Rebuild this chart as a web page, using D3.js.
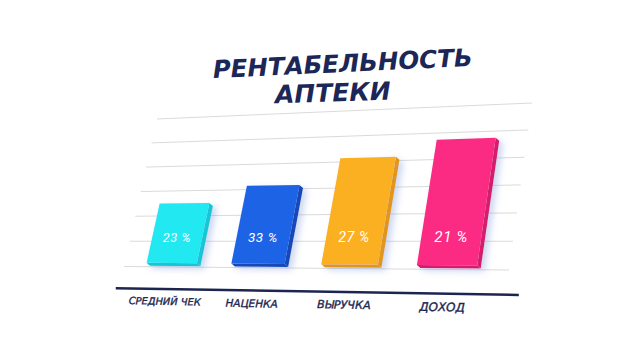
<!DOCTYPE html>
<html><head><meta charset="utf-8">
<script src="https://cdn.jsdelivr.net/npm/d3@7"></script>
<style>html,body{margin:0;padding:0;background:#fff;} svg{display:block;}</style>
</head><body>
<svg id="c" width="640" height="360"></svg>
<script>
// ---- data ----
const titleLines = ["РЕНТАБЕЛЬНОСТЬ", "АПТЕКИ"];
const categories = ["СРЕДНИЙ ЧЕК", "НАЦЕНКА", "ВЫРУЧКА", "ДОХОД"];
const valueLabels = ["23 %", "33 %", "27 %", "21 %"];
const barHeights = [2.5, 3.15, 4.15, 4.75];   // drawn bar height, in gridline units
const gridTicks = [0, 1, 2, 3, 4, 5, 6];
const barColors = ["#22e8f2", "#1c63e6", "#fbb024", "#fb2a82"];
const sideColors = ["#17c6d6", "#1449b5", "#e0961a", "#d61d6c"];

// ---- perspective (homography) from chart plane to screen ----
function solve(A, b) {
  const n = b.length, M = A.map((r, i) => [...r, b[i]]);
  for (let c = 0; c < n; c++) {
    let p = c;
    for (let r = c + 1; r < n; r++) if (Math.abs(M[r][c]) > Math.abs(M[p][c])) p = r;
    [M[c], M[p]] = [M[p], M[c]];
    for (let r = 0; r < n; r++) {
      if (r === c) continue;
      const f = M[r][c] / M[c][c];
      for (let k = c; k <= n; k++) M[r][k] -= f * M[c][k];
    }
  }
  return M.map((r, i) => r[n] / r[i]);
}
const src = [[0, 0], [1, 0], [0, 6], [1, 6]];
const dst = [[124, 266.5], [509, 270], [157, 119], [532, 103]];
const A = [], B = [];
src.forEach(([u, v], i) => {
  const [x, y] = dst[i];
  A.push([u, v, 1, 0, 0, 0, -u * x, -v * x]); B.push(x);
  A.push([0, 0, 0, u, v, 1, -u * y, -v * y]); B.push(y);
});
const h = solve(A, B);
function P(u, v) {
  const w = h[6] * u + h[7] * v + 1;
  return [(h[0] * u + h[1] * v + h[2]) / w, (h[3] * u + h[4] * v + h[5]) / w];
}
function localScale(u, v) {
  const a = P(u, v), b = P(u + 0.01, v);
  return Math.hypot(b[0] - a[0], b[1] - a[1]) / (0.01 * 385);
}
function localAngle(u, v) {
  const a = P(u, v), b = P(u + 0.01, v);
  return Math.atan2(b[1] - a[1], b[0] - a[0]) * 180 / Math.PI;
}

// ---- scales in plane units ----
const x = d3.scaleBand().domain(categories).range([0.016, 0.973]).paddingInner(0.4).paddingOuter(0.2);
const y = d3.scaleLinear().domain([0, 6]).range([0, 6]);
const base = 0.15;

const svg = d3.select("#c");
const defs = svg.append("defs");
defs.append("filter").attr("id", "sh").attr("x", "-30%").attr("y", "-20%").attr("width", "170%").attr("height", "150%")
  .append("feDropShadow").attr("dx", 4).attr("dy", 3).attr("stdDeviation", 3)
  .attr("flood-color", "#6f8fd8").attr("flood-opacity", 0.35);

// gridlines
const line = d3.line();
svg.append("g").selectAll("path").data(gridTicks).join("path")
  .attr("d", t => line([P(0, y(t)), P(1, y(t))]))
  .attr("stroke", "#dadada").attr("stroke-width", 1).attr("fill", "none");

// axis line
svg.append("path").attr("d", line([P(-0.01, -0.85), P(1.03, -0.85)]))
  .attr("stroke", "#1c2550").attr("stroke-width", 2.5).attr("fill", "none");

// bars
const d = [3.5, 3];
const bars = svg.append("g").selectAll("g").data(categories).join("g").attr("filter", "url(#sh)");
bars.each(function (c, i) {
  const g = d3.select(this);
  const u0 = x(c), u1 = x(c) + x.bandwidth();
  const BL = P(u0, base), BR = P(u1, base), TR = P(u1, y(barHeights[i])), TL = P(u0, y(barHeights[i]));
  const add = (p, q, k = 1) => [p[0] + q[0] * k, p[1] + q[1] * k];
  g.append("path").attr("d", line([add(BL, d, 0.6), BL, BR, add(BR, d), add(BL, d)]) + "Z").attr("fill", sideColors[i]);
  g.append("path").attr("d", line([TR, add(TR, d), add(BR, d), BR]) + "Z").attr("fill", sideColors[i]);
  g.append("path").attr("d", line([BL, BR, TR, TL]) + "Z").attr("fill", barColors[i]);
});

// value labels
svg.append("g").selectAll("text").data(categories).join("text")
  .attr("transform", c => { const u = x(c) + x.bandwidth() / 2; const p = P(u, 1.15); return `translate(${p[0]},${p[1]})`; })
  .attr("text-anchor", "middle").attr("dominant-baseline", "central")
  .attr("font-family", "Roboto, sans-serif").attr("font-style", "italic")
  .attr("font-size", c => 14 * localScale(x(c) + x.bandwidth() / 2, 1.15))
  .attr("fill", "#fff").attr("letter-spacing", 0.6)
  .text((c, i) => valueLabels[i]);

// category labels
svg.append("g").selectAll("text").data(categories).join("text")
  .attr("transform", c => {
    const u = x(c) + x.bandwidth() / 2 + 0.004; const p = P(u, -1.32);
    return `translate(${p[0]},${p[1]}) rotate(${localAngle(u, -1.32)})`;
  })
  .attr("text-anchor", "middle").attr("dominant-baseline", "central")
  .attr("font-family", "'DejaVu Sans', sans-serif").attr("font-style", "italic")
  .attr("font-size", c => 10.8 * localScale(x(c) + x.bandwidth() / 2, -1.32))
  .attr("fill", "#1c2550").attr("stroke", "#1c2550").attr("stroke-width", 0.35)
  .text(c => c);

// title
const title = svg.append("g").attr("font-family", "'DejaVu Sans', sans-serif")
  .attr("font-weight", "bold").attr("font-style", "italic").attr("fill", "#1c2757").attr("text-anchor", "middle");
title.append("text").attr("transform", "translate(343,72) rotate(-2.7)").attr("font-size", 24.5).text(titleLines[0]);
title.append("text").attr("transform", "translate(333,101.5) rotate(-1.8)").attr("font-size", 25).text(titleLines[1]);
</script>
</body></html>
